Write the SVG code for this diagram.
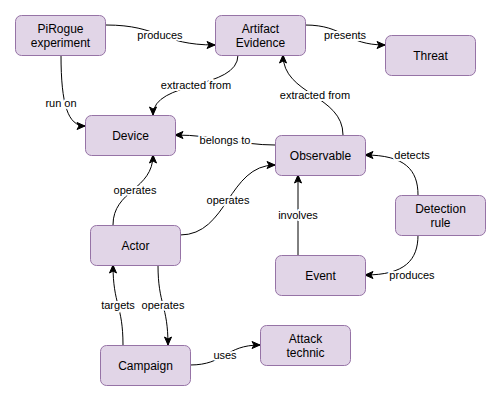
<svg xmlns="http://www.w3.org/2000/svg" width="501" height="401" viewBox="0 0 501 401">
<style>
.node rect{fill:#e1d5e7;stroke:#9673a6;stroke-width:1}
.node text{font-family:"Liberation Sans",Arial,sans-serif;font-size:12px;fill:#000;text-anchor:middle;dominant-baseline:central}
.edge{fill:none;stroke:#000;stroke-width:1}
.lbl{font-family:"Liberation Sans",Arial,sans-serif;font-size:11px;fill:#000;text-anchor:middle;dominant-baseline:central;stroke:#fff;stroke-width:4;paint-order:stroke;stroke-linejoin:round}
</style>
<defs>
<marker id="arr" markerUnits="userSpaceOnUse" markerWidth="10" markerHeight="10" viewBox="0 0 10 10" refX="9" refY="5" orient="auto">
<path d="M1,1.5 L9,5 L1,8.5 L3,5 Z" fill="#000" stroke="#000" stroke-width="1"/>
</marker>
</defs>
<rect width="501" height="401" fill="#fff"/>
<g id="connectors">
<path class="edge" marker-end="url(#arr)" d="M106,25 C160,25 160,45 215,45"/>
<path class="edge" marker-end="url(#arr)" d="M305,25 C345,25 345,45 385,45"/>
<path class="edge" marker-end="url(#arr)" d="M238,55 C238,90 153,80 153,115"/>
<path class="edge" marker-end="url(#arr)" d="M61,55 C61,105 68,126 85,126"/>
<path class="edge" marker-end="url(#arr)" d="M275,145 C240,145 215,135 175,135"/>
<path class="edge" marker-end="url(#arr)" d="M343,135 C343,95 283,95 283,55"/>
<path class="edge" marker-end="url(#arr)" d="M113,225 C113,190 153,190 153,155"/>
<path class="edge" marker-end="url(#arr)" d="M180,235 C228,235 228,165 275,165"/>
<path class="edge" marker-end="url(#arr)" d="M418,195 C418,170 405,155 365,155"/>
<path class="edge" marker-end="url(#arr)" d="M418,235 C418,260 405,275 365,275"/>
<path class="edge" marker-end="url(#arr)" d="M298,255 L298,175"/>
<path class="edge" marker-end="url(#arr)" d="M123,345 C123,305 113,305 113,265"/>
<path class="edge" marker-end="url(#arr)" d="M158,265 C158,305 168,305 168,345"/>
<path class="edge" marker-end="url(#arr)" d="M190,365 C225,365 225,345 260,345"/>
<text class="lbl" x="160" y="35">produces</text>
<text class="lbl" x="345" y="35">presents</text>
<text class="lbl" x="196" y="85">extracted from</text>
<text class="lbl" x="61" y="103">run on</text>
<text class="lbl" x="225" y="140">belongs to</text>
<text class="lbl" x="315" y="95">extracted from</text>
<text class="lbl" x="135" y="190">operates</text>
<text class="lbl" x="228" y="200">operates</text>
<text class="lbl" x="412" y="155">detects</text>
<text class="lbl" x="412" y="275">produces</text>
<text class="lbl" x="298" y="215">involves</text>
<text class="lbl" x="118" y="305">targets</text>
<text class="lbl" x="163" y="305">operates</text>
<text class="lbl" x="225" y="355">uses</text>
</g>
<g id="pirogue" class="node"><rect x="15.5" y="15.5" width="90" height="40" rx="6"/><text x="60.5" y="28.5">PiRogue</text><text x="60.5" y="42.5">experiment</text></g>
<g id="artifact" class="node"><rect x="215.5" y="15.5" width="90" height="40" rx="6"/><text x="260.5" y="28.5">Artifact</text><text x="260.5" y="42.5">Evidence</text></g>
<g id="threat" class="node"><rect x="385.5" y="35.5" width="90" height="40" rx="6"/><text x="430.5" y="55.5">Threat</text></g>
<g id="device" class="node"><rect x="85.5" y="115.5" width="90" height="40" rx="6"/><text x="130.5" y="135.5">Device</text></g>
<g id="observable" class="node"><rect x="275.5" y="135.5" width="90" height="40" rx="6"/><text x="320.5" y="155.5">Observable</text></g>
<g id="detection" class="node"><rect x="395.5" y="195.5" width="90" height="40" rx="6"/><text x="440.5" y="208.5">Detection</text><text x="440.5" y="222.5">rule</text></g>
<g id="actor" class="node"><rect x="90.5" y="225.5" width="90" height="40" rx="6"/><text x="135.5" y="245.5">Actor</text></g>
<g id="event" class="node"><rect x="275.5" y="255.5" width="90" height="40" rx="6"/><text x="320.5" y="275.5">Event</text></g>
<g id="attack" class="node"><rect x="260.5" y="325.5" width="90" height="40" rx="6"/><text x="305.5" y="338.5">Attack</text><text x="305.5" y="352.5">technic</text></g>
<g id="campaign" class="node"><rect x="100.5" y="345.5" width="90" height="40" rx="6"/><text x="145.5" y="365.5">Campaign</text></g>
</svg>
